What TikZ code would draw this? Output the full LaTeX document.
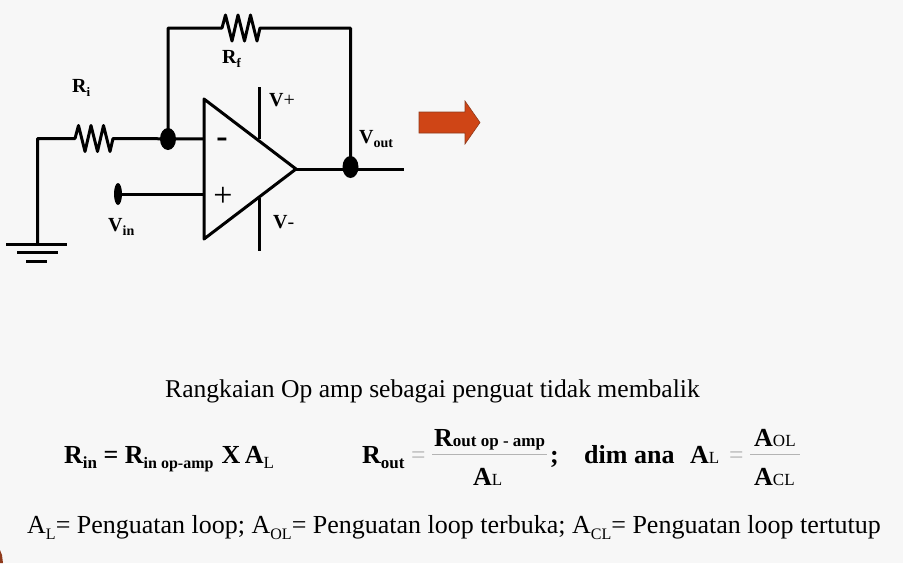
\documentclass[tikz,border=0pt]{standalone}
\usepackage{fontspec}
\setmainfont{Liberation Serif}
\usetikzlibrary{positioning}
\definecolor{paper}{HTML}{F7F7F7}
\definecolor{arrowfill}{HTML}{CF4516}
\definecolor{arrowedge}{HTML}{8F3A1C}
\definecolor{barcolor}{HTML}{B4B4B4}
\newcommand{\fsize}[1]{\fontsize{#1}{#1}\selectfont}
\newcommand{\sbb}[1]{\raisebox{-0.22em}{\fsize{17}\bfseries #1}}
\newcommand{\sbr}[1]{\raisebox{-0.22em}{\fsize{17}\fontseries{m}\selectfont #1}}
\newcommand{\sbc}[1]{\raisebox{-0.26em}{\fsize{16}#1}}
\newcommand{\zigzag}{-- ++(3.5,-13) -- ++(6.5,26) -- ++(6,-26) -- ++(6.5,26) -- ++(6,-26) -- ++(6.5,26) -- ++(3,-13)}
\tikzset{
  wire/.style={line width=3pt, line join=round},
  lbl/.style={inner sep=0pt, anchor=base west, font=\fsize{20}\bfseries},
  eqn/.style={inner sep=0pt, anchor=base west, font=\fsize{26}\bfseries},
  txt/.style={inner sep=0pt, anchor=base west, font=\fsize{25.6}},
  bar/.style={barcolor, line width=1.6pt}
}
\begin{document}
\begin{tikzpicture}[x=1pt, y=-1pt]
  \fill[paper] (0, 0) rectangle (903, 563);
  \useasboundingbox (0, 0) rectangle (903, 563);
  % corner scrap
  \fill[arrowedge] (0, 550) -- (2, 555) -- (3, 563) -- (0, 563) -- cycle;

  % op amp
  \coordinate (inv) at (204, 139);
  \coordinate (noninv) at (204, 194);
  \coordinate (opout) at (296, 169);
  \draw[wire] (204, 99) -- (opout) -- (204, 239) -- cycle;
  \node[font=\fsize{34}\bfseries, inner sep=0pt] (minus) at (222, 143) {-};
  \node[font=\fsize{34}, inner sep=0pt] (plus) at (223, 197) {+};
  \draw[wire] (259.5, 87) -- (259.5, 139);
  \draw[wire] (259.5, 198) -- (259.5, 251);
  \node[lbl] (vplus) at (269, 106) {V{\fontseries{m}\selectfont+}};
  \node[lbl] (vminus) at (273, 228) {V{\fontseries{m}\selectfont-}};

  % input side
  \coordinate (gnd) at (37.5, 244);
  \coordinate (rileft) at (75, 138.5);
  \coordinate (dotin) at (168, 139);
  \draw[wire] (gnd) -- (37.5, 138.5) -- (rileft) \zigzag -- (inv);
  \draw[wire] (6, 244) -- (67, 244);
  \draw[wire] (17, 252) -- (58, 252);
  \draw[wire] (26, 261) -- (47, 261);
  \node[lbl] (ri) at (72, 92) {R\sbb{\fsize{13}i}};

  % feedback
  \coordinate (rfleft) at (222, 28);
  \coordinate (dotout) at (350.5, 167);
  \draw[wire] (dotin) -- (168, 28) -- (rfleft) \zigzag -- (350.5, 28) -- (dotout);
  \node[lbl] (rf) at (222, 63) {R\sbb{\fsize{13}f}};
  \draw[wire] (opout) -- (404, 169);
  \node[lbl] (vout) at (359, 143) {V\sbb{\fsize{14}out}};
  \fill (dotin) ellipse (8 and 11);
  \fill (dotout) ellipse (8 and 11);

  % vin
  \coordinate (vinend) at (118, 194);
  \draw[wire] (vinend) -- (noninv);
  \fill (vinend) ellipse (4 and 11);
  \node[lbl] (vin) at (108, 231) {V\sbb{\fsize{14}in}};

  % arrow
  \draw[fill=arrowfill, draw=arrowedge, line width=0.6pt] (419, 112) -- (465, 112) -- (465, 101) -- (480, 122.5)
    -- (465, 144) -- (465, 133) -- (419, 133) -- cycle;

  % text
  \node[txt] (caption) at (165, 397) {Rangkaian Op amp sebagai penguat tidak membalik};
  \node[eqn] (rin) at (64, 463) {R\sbb{in} = R\sbb{\fsize{16}in op-amp}\kern8pt X\kern-2pt{} A\sbr{L}};
  \node[eqn] (rout) at (362, 463) {R\sbb{out}};
  \node[txt, barcolor] (eqa) at (411, 463) {=};
  \draw[bar] (432, 454.5) -- (547, 454.5);
  \node[eqn] (routnum) at (434, 446) {R{\fsize{17}out op - amp}};
  \node[eqn] (routden) at (473, 485) {A{\fsize{17}\fontseries{m}\selectfont L}};
  \node[eqn] (semi) at (550, 463) {;};
  \node[eqn] (dimana) at (584, 463) {dim ana};
  \node[eqn] (al) at (690, 463) {A{\fsize{17}\fontseries{m}\selectfont L}};
  \node[txt, barcolor] (eqb) at (729, 463) {=};
  \draw[bar] (750, 454.5) -- (800, 454.5);
  \node[eqn] (aol) at (754, 446) {A{\fsize{17}\fontseries{m}\selectfont OL}};
  \node[eqn] (acl) at (754, 485) {A{\fsize{17}\fontseries{m}\selectfont CL}};
  \node[txt, font=\fsize{26}] (legend) at (27, 533) {A\sbc{L}= Penguatan loop; A\sbc{OL}= Penguatan loop terbuka; A\sbc{CL}= Penguatan loop tertutup};
\end{tikzpicture}
\end{document}
